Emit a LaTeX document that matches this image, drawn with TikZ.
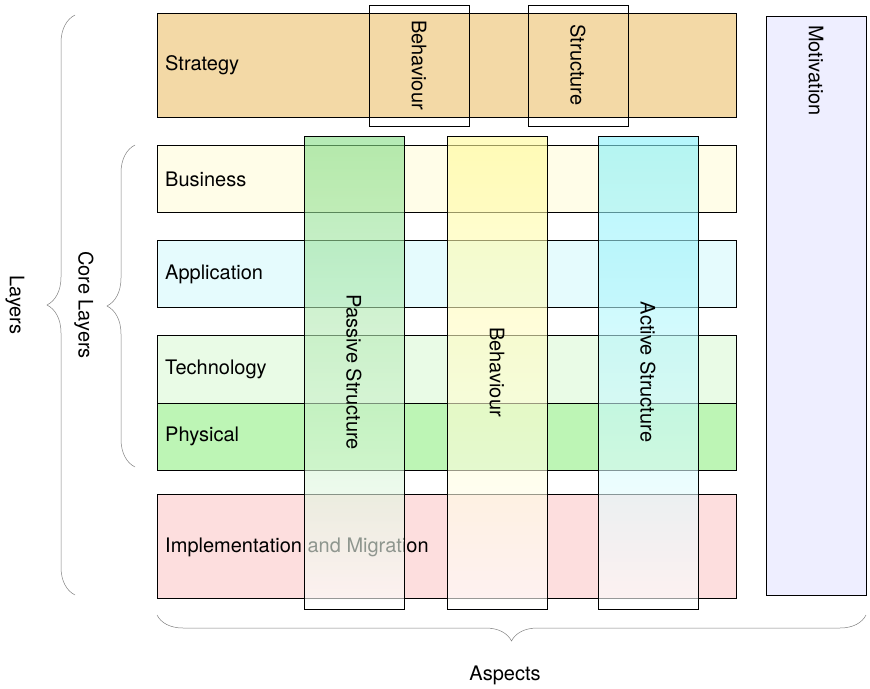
\documentclass[tikz,border=0pt]{standalone}
\usepackage{fontspec}
\setmainfont{TeX Gyre Heros}
\usetikzlibrary{decorations.pathreplacing,fadings}
\begin{document}
\begin{tikzpicture}[x=1pt,y=-1pt,
  row/.style={draw=black,line width=0.6pt},
  lbl/.style={anchor=west,inner sep=0pt,font=\fontsize{20}{22}\selectfont},
  vlbl/.style={rotate=-90,inner sep=0pt,font=\fontsize{20}{22}\selectfont},
  col/.style={draw=black,line width=0.8pt},
  br/.style={decorate,draw=gray,line width=0.5pt}]
\useasboundingbox (0,0) rectangle (870,688);
\definecolor{strat}{HTML}{F3D9A6}
\definecolor{bus}{HTML}{FFFDE8}
\definecolor{app}{HTML}{E5FBFD}
\definecolor{tech}{HTML}{E9FBE6}
\definecolor{phys}{HTML}{BDF5B5}
\definecolor{impl}{HTML}{FDDEDE}
\definecolor{mot}{HTML}{EEEEFF}
% rows
\draw[row,fill=strat] (157,13) rectangle (736,117);
\node[lbl] (strategy) at (165,65) {Strategy};
\draw[row,fill=bus] (157,145) rectangle (736,212);
\node[lbl] (business) at (165,179) {Business};
\draw[row,fill=app] (157,240) rectangle (736,307);
\node[lbl] (application) at (165,274) {Application};
\draw[row,fill=tech] (157,335) rectangle (736,403);
\node[lbl] (technology) at (165,369) {Technology};
\draw[row,fill=phys] (157,403) rectangle (736,470);
\node[lbl] (physical) at (165,436) {Physical};
\draw[row,fill=impl] (157,494) rectangle (736,598);
\node[lbl] (impl) at (165,547) {Implementation and Migration};
\draw[row,fill=mot] (766,16) rectangle (866,595);
\node[vlbl,anchor=west] (motivation) at (816,25) {Motivation};
% strategy aspect boxes
\draw[col] (369,5) rectangle (469,126);
\node[vlbl] (sbeh) at (419,65) {Behaviour};
\draw[col] (528,5) rectangle (628,126);
\node[vlbl] (sstr) at (578,65) {Structure};
% columns
\shade[fill opacity=0.6,top color={rgb,255:red,130;green,220;blue,130},bottom color=white] (304,136) rectangle (404,609);
\draw[col] (304,136) rectangle (404,609);
\node[vlbl] (passive) at (354,372) {Passive Structure};
\shade[fill opacity=0.6,top color={rgb,255:red,255;green,250;blue,150},bottom color=white] (447,136) rectangle (547,609);
\draw[col] (447,136) rectangle (547,609);
\node[vlbl] (behaviour) at (497,372) {Behaviour};
\shade[fill opacity=0.6,top color={rgb,255:red,130;green,240;blue,250},bottom color=white] (598,136) rectangle (698,609);
\draw[col] (598,136) rectangle (698,609);
\node[vlbl] (active) at (648,372) {Active Structure};
% braces
\coordinate (l1) at (75,15); \coordinate (l2) at (75,595);
\draw[br,decoration={brace,amplitude=28pt}] (l2) -- (l1);
\node[vlbl] (layers) at (15,305) {Layers};
\coordinate (c1) at (135,145); \coordinate (c2) at (135,467);
\draw[br,decoration={brace,amplitude=28pt}] (c2) -- (c1);
\node[vlbl] (core) at (84,305) {Core Layers};
\coordinate (a1) at (157,615); \coordinate (a2) at (866,615);
\draw[br,decoration={brace,amplitude=26pt,mirror}] (a1) -- (a2);
\node[font=\fontsize{20}{22}\selectfont,inner sep=0pt] (aspects) at (505,675) {Aspects};
\end{tikzpicture}
\end{document}
